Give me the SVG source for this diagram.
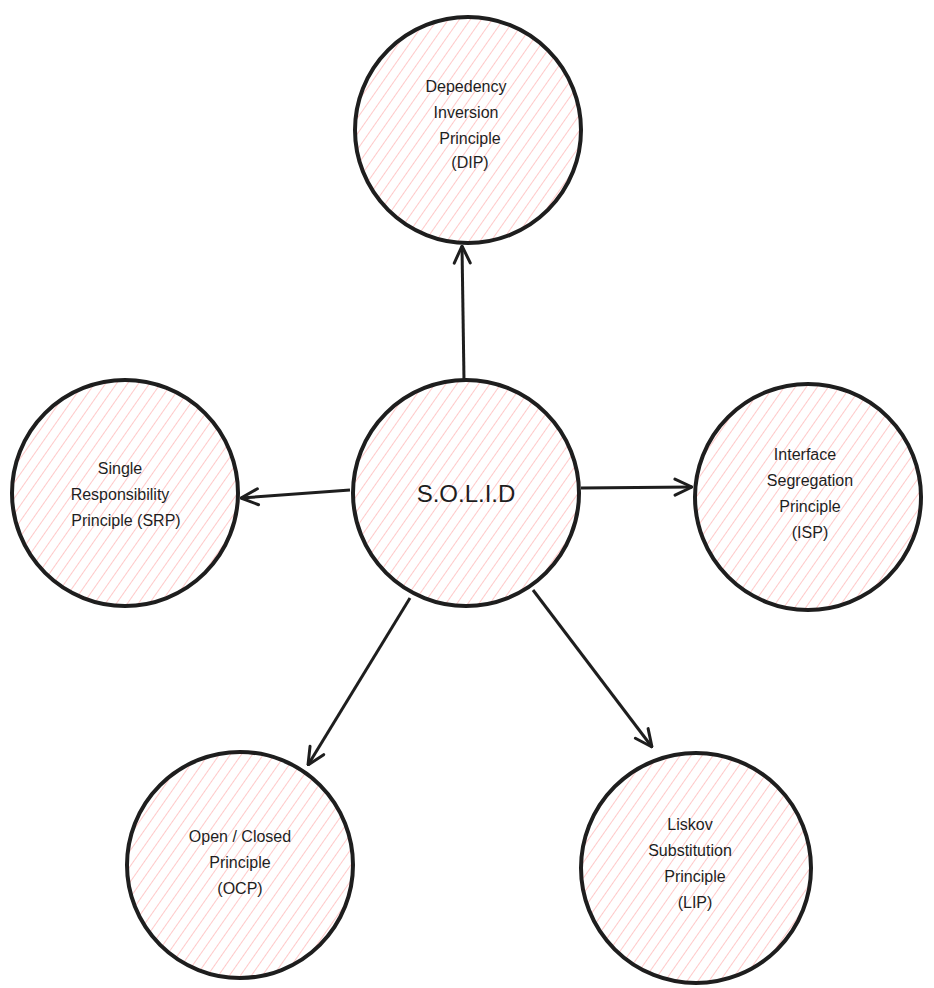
<svg xmlns="http://www.w3.org/2000/svg" width="934" height="988" viewBox="0 0 934 988">
<style>
.n{fill:url(#h);stroke:#1e1e1e;stroke-width:4}
.t{font-family:"Liberation Sans",sans-serif;font-size:16px;fill:#1e1e1e;text-anchor:middle}
.c{stroke:#1e1e1e;stroke-width:3;fill:none;marker-end:url(#a)}
</style>
<defs>
<pattern id="h" width="9" height="9" patternUnits="userSpaceOnUse" patternTransform="rotate(35)">
<rect width="9" height="9" fill="#fff"/>
<line x1="0" y1="0" x2="0" y2="9" stroke="#ffc9c9" stroke-width="2"/>
</pattern>
<marker id="a" viewBox="0 0 20 20" refX="19" refY="10" markerWidth="20" markerHeight="20" orient="auto" markerUnits="userSpaceOnUse">
<path d="M2 2 L19 10 L2 18" fill="none" stroke="#1e1e1e" stroke-width="3" stroke-linecap="round" stroke-linejoin="round"/>
</marker>
</defs>
<rect width="934" height="988" fill="#fff"/>
<g id="connectors">
<path class="c" d="M464 380 L462 246"/>
<path class="c" d="M350 490 L241 498"/>
<path class="c" d="M581 488 L692 487"/>
<path class="c" d="M410 598 L308 765"/>
<path class="c" d="M533 590 L652 747"/>
</g>
<g id="dip"><circle class="n" cx="468" cy="130" r="113"/>
<text class="t" x="466" y="92">Depedency</text><text class="t" x="466" y="118">Inversion</text><text class="t" x="470" y="144">Principle</text><text class="t" x="470" y="168">(DIP)</text></g>
<g id="srp"><circle class="n" cx="125" cy="493" r="113"/>
<text class="t" x="120" y="474">Single</text><text class="t" x="120" y="500">Responsibility</text><text class="t" x="126" y="526">Principle (SRP)</text></g>
<g id="solid"><circle class="n" cx="466" cy="493" r="113"/>
<text class="t" x="466" y="502" style="font-size:24px">S.O.L.I.D</text></g>
<g id="isp"><circle class="n" cx="808" cy="497" r="113"/>
<text class="t" x="805" y="460">Interface</text><text class="t" x="810" y="486">Segregation</text><text class="t" x="810" y="512">Principle</text><text class="t" x="810" y="538">(ISP)</text></g>
<g id="ocp"><circle class="n" cx="240" cy="865" r="113"/>
<text class="t" x="240" y="842">Open / Closed</text><text class="t" x="240" y="868">Principle</text><text class="t" x="240" y="894">(OCP)</text></g>
<g id="lip"><circle class="n" cx="696" cy="868" r="115"/>
<text class="t" x="690" y="830">Liskov</text><text class="t" x="690" y="856">Substitution</text><text class="t" x="695" y="882">Principle</text><text class="t" x="695" y="908">(LIP)</text></g>
</svg>
